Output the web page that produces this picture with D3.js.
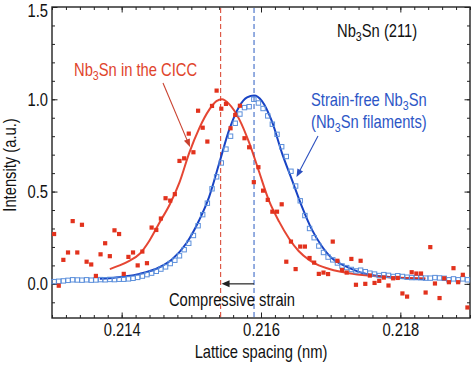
<!DOCTYPE html>
<html>
<head>
<meta charset="utf-8">
<script src="https://cdn.jsdelivr.net/npm/d3@7"></script>
<style>
  html, body { margin: 0; padding: 0; background: #fff; }
  svg { display: block; }
  text { font-family: "Liberation Sans", Arial, sans-serif; }
</style>
</head>
<body>
<svg id="chart" width="474" height="365"></svg>
<script>
// ---------- data ----------
const spacing = [
  0.213030, 0.213097, 0.213163, 0.213230, 0.213297, 0.213363, 0.213430, 0.213497, 0.213563, 0.213630,
  0.213697, 0.213763, 0.213830, 0.213897, 0.213963, 0.214030, 0.214097, 0.214163, 0.214230, 0.214297,
  0.214363, 0.214430, 0.214497, 0.214563, 0.214630, 0.214697, 0.214763, 0.214830, 0.214897, 0.214963,
  0.215030, 0.215097, 0.215163, 0.215230, 0.215297, 0.215363, 0.215430, 0.215497, 0.215563, 0.215630,
  0.215697, 0.215763, 0.215830, 0.215897, 0.215963, 0.216030, 0.216097, 0.216163, 0.216230, 0.216297,
  0.216363, 0.216430, 0.216497, 0.216563, 0.216630, 0.216697, 0.216763, 0.216830, 0.216897, 0.216963,
  0.217030, 0.217097, 0.217163, 0.217230, 0.217297, 0.217363, 0.217430, 0.217497, 0.217563, 0.217630,
  0.217697, 0.217763, 0.217830, 0.217897, 0.217963, 0.218030, 0.218097, 0.218163, 0.218230, 0.218297,
  0.218363, 0.218430, 0.218497, 0.218563, 0.218630, 0.218697, 0.218763, 0.218830, 0.218897, 0.218963
];
const intensityCICC = [
  0.27, -0.01, 0.13, 0.17, 0.34, 0.17, 0.32, 0.12, 0.105, 0.043,
  0.16, 0.22, 0.15, 0.29, 0.27, 0.054, 0.146, 0.17, 0.10, 0.175,
  0.112, 0.305, 0.292, 0.354, 0.464, 0.451, 0.486, 0.666, 0.68, 0.814,
  0.713, 0.938, 0.846, 0.771, 0.964, 1.047, 0.949, 0.975, 0.843, 0.915,
  0.965, 0.789, 0.74, 0.551, 0.632, 0.505, 0.455, 0.391, 0.391, 0.431,
  0.12, 0.229, 0.08, 0.202, 0.202, 0.14, 0.115, 0.054, 0.061, 0.053,
  0.229, 0.125, 0.075, 0.061, 0.135, -0.005, 0.125, 0.0, 0.045, 0.005,
  0.016, 0.034, -0.009, 0.03, 0.032, -0.052, -0.069, 0.063, 0.056, 0.056,
  -0.047, 0.199, 0.002, -0.077, 0.03, 0.009, 0.085, 0.009, 0.049, -0.128
];
const intensityFree = [
  0.012, 0.014, 0.016, 0.019, 0.022, 0.021, 0.020, 0.022, 0.020, 0.021,
  0.023, 0.022, 0.024, 0.023, 0.025, 0.025, 0.027, 0.030, 0.035, 0.042,
  0.050, 0.058, 0.068, 0.080, 0.092, 0.110, 0.128, 0.152, 0.185, 0.220,
  0.262, 0.315, 0.375, 0.437, 0.515, 0.580, 0.655, 0.730, 0.800, 0.870,
  0.920, 0.955, 0.960, 1.000, 0.980, 0.950, 0.910, 0.865, 0.810, 0.743,
  0.690, 0.610, 0.530, 0.450, 0.370, 0.300, 0.250, 0.205, 0.170, 0.145,
  0.130, 0.113, 0.097, 0.088, 0.078, 0.070, 0.074, 0.066, 0.058, 0.053,
  0.045, 0.050, 0.046, 0.040, 0.044, 0.040, 0.036, 0.034, 0.034, 0.033,
  0.031, 0.031, 0.034, 0.032, 0.030, 0.022, 0.027, 0.022, 0.027, 0.022
];
// fitted profiles
const fitCICCx = [0.21383, 0.21397, 0.21411, 0.21426, 0.21440, 0.21454, 0.21469, 0.21483, 0.21497, 0.21511,
  0.21526, 0.21536, 0.21544, 0.21554, 0.21569, 0.21583, 0.21597, 0.21611, 0.21626, 0.21640,
  0.21654, 0.21669, 0.21683, 0.21697, 0.21711, 0.21726, 0.21754, 0.21783, 0.21811, 0.21836];
const fitCICCy = [0.080, 0.100, 0.125, 0.163, 0.235, 0.330, 0.430, 0.550, 0.710, 0.840,
  0.945, 0.990, 1.000, 0.975, 0.890, 0.765, 0.610, 0.455, 0.337, 0.247,
  0.178, 0.130, 0.100, 0.082, 0.068, 0.058, 0.045, 0.036, 0.032, 0.030];
const fitFreeX = [0.213686, 0.213829, 0.214043, 0.214257, 0.214543, 0.214729, 0.214929, 0.215114, 0.215257, 0.215400,
  0.215543, 0.215686, 0.215800, 0.215900, 0.216014, 0.216157, 0.216300, 0.216443, 0.216586, 0.216729,
  0.216871, 0.217014, 0.217157, 0.217257, 0.217443, 0.217686, 0.217929, 0.218214, 0.218357];
const fitFreeY = [0.027, 0.031, 0.040, 0.054, 0.090, 0.135, 0.220, 0.346, 0.473, 0.653,
  0.834, 0.960, 1.010, 1.020, 0.990, 0.880, 0.710, 0.565, 0.420, 0.295,
  0.205, 0.140, 0.105, 0.088, 0.060, 0.042, 0.034, 0.027, 0.025];
const peakPositions = [0.21542, 0.21590];   // CICC, strain-free
const xTickLabels = [0.214, 0.216, 0.218];
const yTickLabels = [0.0, 0.5, 1.0, 1.5];

// ---------- layout ----------
const L = 52, R = 470, T = 7, B = 318;
const svg = d3.select("#chart");
const x = d3.scaleLinear().domain([0.213, 0.219]).range([L, R]);
const y = d3.scaleLinear().domain([-0.185, 1.5]).range([B, T]);

const RED = "#e2321d", RED_TXT = "#e0442c", BLUE = "#1843c4", BLUE_SQ = "#5b8fdb", BLUE_TXT = "#2c56c6";
const FONT = 18, NARROW = 0.82;

// horizontally condensed text (the reference uses a narrow sans face)
function narrowAt(sel, ax) {
  sel.attr("transform", `translate(${ax},0) scale(${NARROW},1) translate(${-ax},0)`);
}

const xMinor = d3.range(2130, 2191, 2).map(d => d / 10000);
const yMinor = d3.range(-1, 16).map(d => d / 10);

function styleAxis(g) {
  g.select(".domain").remove();
  g.selectAll(".tick line").attr("stroke", "#222").attr("stroke-width", 1);
  g.selectAll(".tick text").attr("font-size", FONT).attr("fill", "#111")
    .attr("font-family", '"Liberation Sans", Arial, sans-serif')
    .each(function() { const t = d3.select(this); narrowAt(t, +t.attr("x") || 0); });
}
// bottom
svg.append("g").attr("transform", `translate(0,${B})`)
  .call(d3.axisBottom(x).tickValues(xMinor).tickSize(-3).tickSizeOuter(0).tickFormat("")).call(styleAxis);
svg.append("g").attr("transform", `translate(0,${B})`)
  .call(d3.axisBottom(x).tickValues(xTickLabels).tickSize(-5.5).tickSizeOuter(0).tickPadding(5.5).tickFormat(d3.format(".3f"))).call(styleAxis);
// top
svg.append("g").attr("transform", `translate(0,${T})`)
  .call(d3.axisTop(x).tickValues(xMinor).tickSize(-3).tickSizeOuter(0).tickFormat("")).call(styleAxis);
svg.append("g").attr("transform", `translate(0,${T})`)
  .call(d3.axisTop(x).tickValues(xTickLabels).tickSize(-5.5).tickSizeOuter(0).tickFormat("")).call(styleAxis);
// left
svg.append("g").attr("transform", `translate(${L},0)`)
  .call(d3.axisLeft(y).tickValues(yMinor).tickSize(-3).tickSizeOuter(0).tickFormat("")).call(styleAxis);
const leftLab = svg.append("g").attr("transform", `translate(${L},0)`)
  .call(d3.axisLeft(y).tickValues(yTickLabels).tickSize(-5.5).tickSizeOuter(0).tickPadding(4).tickFormat(d3.format(".1f"))).call(styleAxis);
leftLab.selectAll(".tick text").filter(d => d === 1.5).attr("dy", "0.5em");
// right
svg.append("g").attr("transform", `translate(${R},0)`)
  .call(d3.axisRight(y).tickValues(yMinor).tickSize(-3).tickSizeOuter(0).tickFormat("")).call(styleAxis);
svg.append("g").attr("transform", `translate(${R},0)`)
  .call(d3.axisRight(y).tickValues(yTickLabels).tickSize(-5.5).tickSizeOuter(0).tickFormat("")).call(styleAxis);

// frame
svg.append("rect").attr("x", L).attr("y", T).attr("width", R - L).attr("height", B - T)
  .attr("fill", "none").attr("stroke", "#222").attr("stroke-width", 1.4);

// dashed peak markers
svg.selectAll(".peak").data(peakPositions).join("line")
  .attr("x1", d => x(d)).attr("x2", d => x(d)).attr("y1", T + 1).attr("y2", B)
  .attr("stroke", (d, i) => i === 0 ? "#dd5a48" : "#4f78cc")
  .attr("stroke-width", 1.2).attr("stroke-dasharray", "5,3");

// fitted curves
const lineGen = d3.line().x(d => x(d[0])).y(d => y(d[1])).curve(d3.curveMonotoneX);
svg.append("path").datum(fitFreeX.map((v, i) => [v, fitFreeY[i]]))
  .attr("d", lineGen).attr("fill", "none").attr("stroke", BLUE).attr("stroke-width", 2);
svg.append("path").datum(fitCICCx.map((v, i) => [v, fitCICCy[i]]))
  .attr("d", lineGen).attr("fill", "none").attr("stroke", RED).attr("stroke-width", 2).attr("stroke-opacity", 0.9);

// data points
const sq = 4.4;
svg.append("g").selectAll("rect").data(spacing.map((v, i) => [v, intensityFree[i]])).join("rect")
  .attr("x", d => x(d[0]) - sq / 2).attr("y", d => y(d[1]) - sq / 2)
  .attr("width", sq).attr("height", sq)
  .attr("fill", "none").attr("stroke", BLUE_SQ).attr("stroke-width", 1);
const rs = 4.2;
svg.append("g").selectAll("rect").data(spacing.map((v, i) => [v, intensityCICC[i]])).join("rect")
  .attr("x", d => x(d[0]) - rs / 2).attr("y", d => y(d[1]) - rs / 2)
  .attr("width", rs).attr("height", rs).attr("fill", RED);

// arrows
function arrow(x1, y1, x2, y2, color, w, len, half) {
  const d = Math.hypot(x2 - x1, y2 - y1);
  svg.append("line").attr("x1", x1).attr("y1", y1)
    .attr("x2", x2 - (x2 - x1) / d * len * 0.8)
    .attr("y2", y2 - (y2 - y1) / d * len * 0.8)
    .attr("stroke", color).attr("stroke-width", w);
  const a = Math.atan2(y2 - y1, x2 - x1);
  const bx = x2 - len * Math.cos(a), by = y2 - len * Math.sin(a);
  const px = -Math.sin(a) * half, py = Math.cos(a) * half;
  svg.append("polygon")
    .attr("points", `${x2},${y2} ${bx + px},${by + py} ${bx - px},${by - py}`)
    .attr("fill", color);
}
arrow(x(peakPositions[1]), y(0), x(peakPositions[0]) + 1, y(0), "#222", 1.2, 8, 3.5);
arrow(163, 83, 190, 147, "#c9412f", 1.1, 8, 3.2);
arrow(318, 136, 296.5, 177, "#2b4fbf", 1.1, 8, 3.2);

// annotations
function label(xp, yp, parts, color) {
  const t = svg.append("text").attr("x", xp).attr("y", yp).attr("fill", color).attr("font-size", FONT);
  parts.forEach(p => {
    if (p.sub) t.append("tspan").attr("font-size", 13).attr("dy", 4).text(p.t);
    else t.append("tspan").attr("dy", p.after ? -4 : 0).text(p.t);
  });
  narrowAt(t, xp);
  return t;
}
label(337, 37, [{t: "Nb"}, {t: "3", sub: true}, {t: "Sn (211)", after: true}], "#111");
label(74, 76, [{t: "Nb"}, {t: "3", sub: true}, {t: "Sn in the CICC", after: true}], RED_TXT);
label(311, 106, [{t: "Strain-free Nb"}, {t: "3", sub: true}, {t: "Sn", after: true}], BLUE_TXT);
label(311, 128.5, [{t: "(Nb"}, {t: "3", sub: true}, {t: "Sn filaments)", after: true}], BLUE_TXT);
narrowAt(svg.append("text").attr("x", 232).attr("y", 306.5).attr("text-anchor", "middle")
  .attr("font-size", FONT).attr("fill", "#111").text("Compressive strain"), 232);

// axis titles
narrowAt(svg.append("text").attr("x", 261).attr("y", 358).attr("text-anchor", "middle")
  .attr("font-size", FONT).attr("fill", "#111").text("Lattice spacing (nm)"), 261);
svg.append("text").attr("transform", `translate(16,165) rotate(-90) scale(${NARROW},1)`).attr("text-anchor", "middle")
  .attr("font-size", FONT).attr("fill", "#111").text("Intensity (a.u.)");
</script>
</body>
</html>
